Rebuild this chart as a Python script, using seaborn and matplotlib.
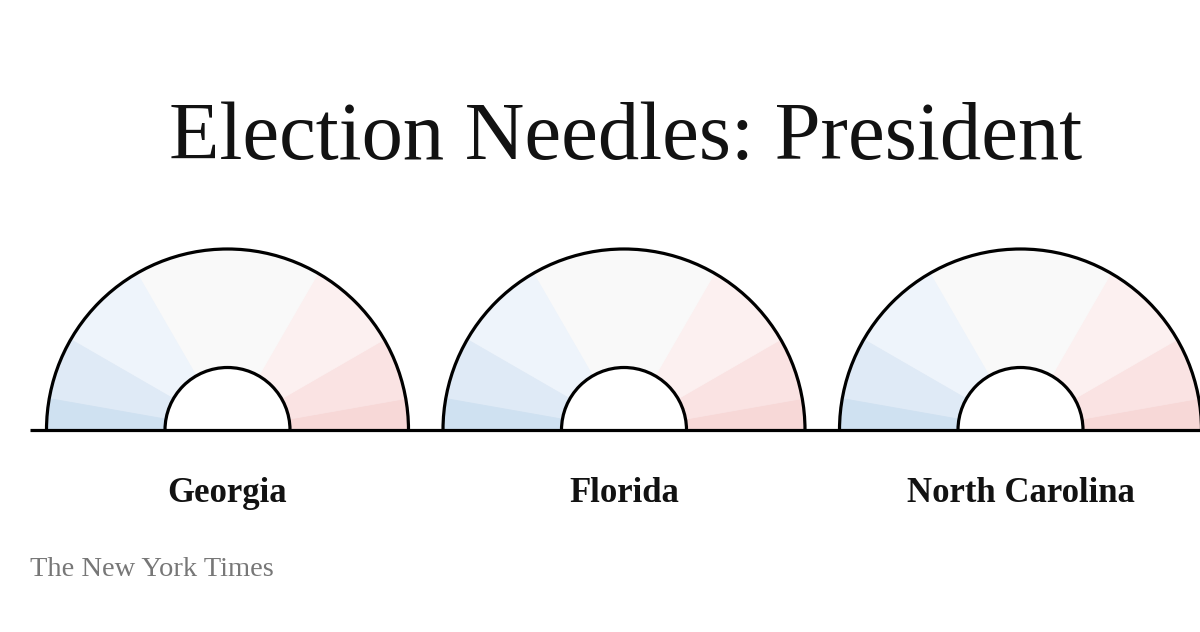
import matplotlib
matplotlib.use("Agg")
import matplotlib.pyplot as plt
from matplotlib.patches import Wedge, Arc
import seaborn as sns

# ---- data ----
states = ["Georgia", "Florida", "North Carolina"]
# segment boundaries (degrees, measured from the right end of the gauge)
seg_edges = [0, 10, 30, 60, 120, 150, 170, 180]
seg_colors = ["#f7d8d7", "#fae3e3", "#fcf0f0", "#f9f9f9",
              "#eef4fb", "#dfeaf6", "#cfe1f1"]
title = "Election Needles: President"
credit = "The New York Times"

sns.set_theme(style="white")
plt.rcParams["font.family"] = ["Liberation Serif", "DejaVu Serif"]

W, H = 1200, 632
fig = plt.figure(figsize=(W / 100, H / 100), dpi=100)
ax = fig.add_axes([0, 0, 1, 1])
ax.set_xlim(0, W)
ax.set_ylim(0, H)
ax.set_aspect("equal")
ax.axis("off")

centers_x = [227.5, 624, 1020.5]
base_y = H - 430
R_out, R_in = 181, 62.5

for cx, name in zip(centers_x, states):
    for t1, t2, c in zip(seg_edges[:-1], seg_edges[1:], seg_colors):
        ax.add_patch(Wedge((cx, base_y), R_out, t1, t2, width=R_out - R_in,
                           facecolor=c, edgecolor=c, lw=0.6))
    ax.add_patch(Arc((cx, base_y), 2 * R_out, 2 * R_out, theta1=0, theta2=180,
                     color="black", lw=2.3))
    ax.add_patch(Arc((cx, base_y), 2 * R_in, 2 * R_in, theta1=0, theta2=180,
                     color="black", lw=2.3))
    ax.text(cx, H - 493, name, ha="center", va="center", fontsize=25,
            fontweight="bold", color="#121212")

ax.plot([30, W], [base_y, base_y], color="black", lw=2.3, solid_capstyle="butt")

ax.text(626, H - 139, title, ha="center", va="center", fontsize=59.5,
        color="#121212")
ax.text(30, H - 569, credit, ha="left", va="center", fontsize=20.5,
        color="#777777")

fig.savefig("out.png", dpi=100)
